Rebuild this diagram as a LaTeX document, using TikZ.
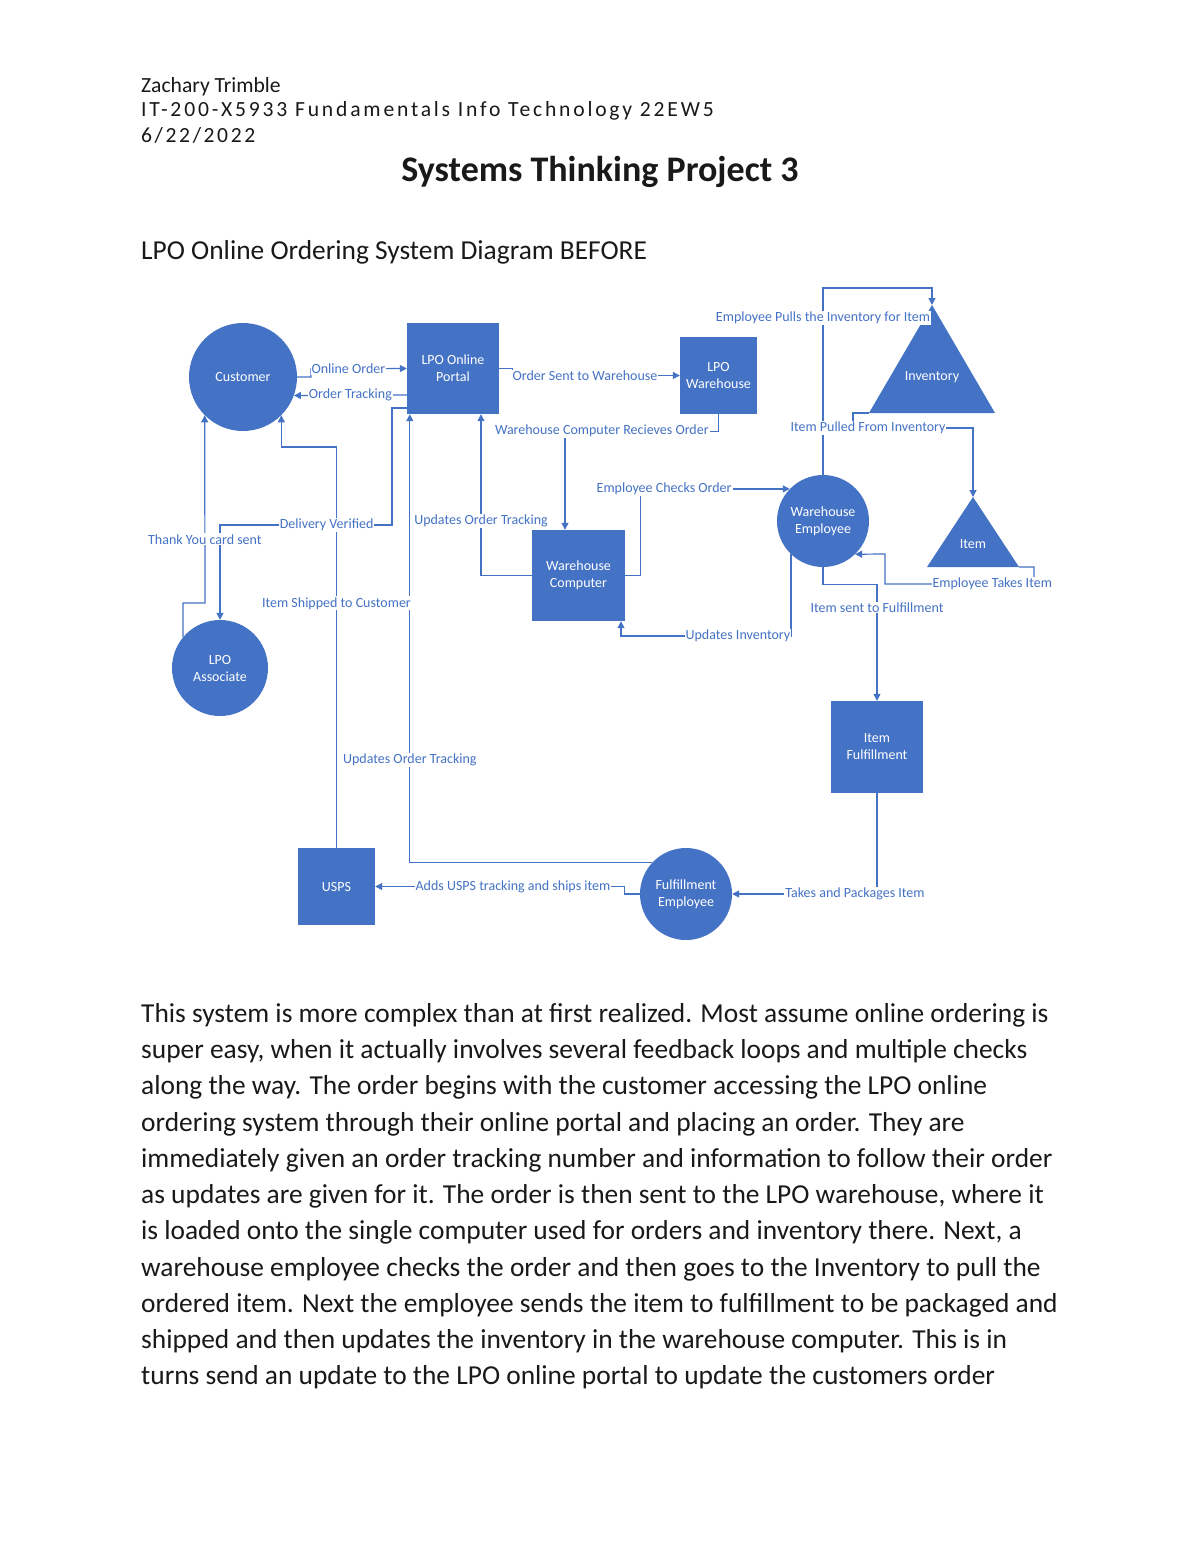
\documentclass[tikz,border=0pt]{standalone}
\usepackage{fontspec}
\setmainfont{Carlito}
\usetikzlibrary{arrows.meta,calc}
\definecolor{obl}{HTML}{4472C4}
\begin{document}
\begin{tikzpicture}[x=1pt,y=-1pt,
  shp/.style={fill=obl, text=white, font=\fontsize{14}{17}\selectfont, align=center, inner sep=0pt},
  circn/.style={shp, circle, minimum size=#1},
  rectn/.style 2 args={shp, rectangle, minimum width=#1, minimum height=#2},
  conn/.style={draw=obl, line width=1.2pt, -{Triangle[length=7pt,width=7pt]}},
  lab/.style={fill=white, text=obl, font=\fontsize{14}{16}\selectfont, inner sep=1pt},
  txt/.style={anchor=base west, inner sep=0pt, text=black!90}
]
\useasboundingbox (0,0) rectangle (1200,1553);
\fill[white] (0,0) rectangle (1200,1553);

% header
\node[txt, font=\fontsize{21.6}{26}\selectfont] (author) at (141,92) {Zachary Trimble};
\node[txt, font=\fontsize{21.6}{26}\selectfont\addfontfeatures{LetterSpace=13}] (course) at (141,116) {IT-200-X5933 Fundamentals Info Technology 22EW5};
\node[txt, font=\fontsize{21.6}{26}\selectfont\addfontfeatures{LetterSpace=12}] (date) at (141,142) {6/22/2022};
\node[anchor=base, inner sep=0pt, text=black!90, font=\bfseries\fontsize{36}{42}\selectfont] (title) at (600,181) {Systems Thinking Project 3};
\node[txt, font=\fontsize{27.4}{32}\selectfont] (sub) at (141,259) {LPO Online Ordering System Diagram BEFORE};

% shapes
\node[circn=108pt] (cust) at (243,377) {Customer};
\node[rectn={92pt}{91pt}] (portal) at (453,368.5) {LPO Online\\Portal};
\node[rectn={77pt}{77pt}] (whs) at (718.5,375.5) {LPO\\Warehouse};
\node[circn=92pt] (wemp) at (823,521) {Warehouse\\Employee};
\node[rectn={93pt}{91pt}] (wcomp) at (578.5,575.5) {Warehouse\\Computer};
\node[circn=96pt] (assoc) at (220,668) {LPO\\Associate};
\node[rectn={92pt}{92pt}] (ifull) at (877,747) {Item\\Fulfillment};
\node[rectn={77pt}{77pt}] (usps) at (336.5,886.5) {USPS};
\node[circn=92pt] (femp) at (686,894) {Fulfillment\\Employee};

\coordinate (invA) at (932,305);
\coordinate (invL) at (869,413);
\coordinate (invR) at (995,413);
\fill[obl] (invA) -- (invL) -- (invR) -- cycle;
\node[shp, fill=none] (inv) at (932,377) {Inventory};

\coordinate (itA) at (973,497);
\coordinate (itL) at (927,567);
\coordinate (itR) at (1019,567);
\fill[obl] (itA) -- (itL) -- (itR) -- cycle;
\node[shp, fill=none] (item) at (973,544) {Item};

% connectors
\draw[conn] (cust.east) -- (311,377) -- (311,369) -- coordinate[pos=0.39] (l1) (portal.west);
\draw[conn] (portal.west |- 0,395) -- coordinate[pos=0.5] (l2) (cust.-20);
\draw[conn] (portal.west |- 0,408) -- (392,408) -- (392,525) -- coordinate[pos=0.38] (l3) (220,525) -- (assoc.north);
\draw[conn] (assoc.140) -- (assoc.140 |- 0,603) -- (205,603) -- coordinate[pos=0.34] (l4) (cust.south west);
\draw[conn] (usps.north) -- coordinate[pos=0.61] (l5) (usps.north |- 0,447) -| (cust.south east);
\draw[conn] (femp.137) -| coordinate[pos=0.614] (l6) ([xshift=3pt]portal.south west);
\draw[conn] (wcomp.west) -| coordinate[pos=0.668] (l7) ([xshift=28pt]portal.south);
\draw[conn] (portal.east) -- ++(13,0) |- coordinate[pos=0.717] (l8) (whs.west);
\draw[conn] (whs.south) -- ++(0,17) -| coordinate[pos=0.38] (l9) ([xshift=-13.5pt]wcomp.north);
\draw[conn] (wcomp.east) -- ++(15,0) |- coordinate[pos=0.58] (l10) (wemp.136);
\draw[conn] (wemp.226) -- (wemp.226 |- 0,636) -| coordinate[pos=0.156] (l11) ([xshift=42.5pt]wcomp.south);
\draw[conn] (wemp.north) -- coordinate[pos=0.84] (l12) (wemp.north |- 0,288) -| (invA);
\draw[conn] (invL) -- ++(-16,0) -- ++(0,15) -| coordinate[pos=0.0625] (l13) (itA);
\draw[conn] (itR) -- ++(15,0) -- ++(0,17) -- coordinate[pos=0.28] (l14) (885,584) -- (885,554) -- (wemp.-46);
\draw[conn] (wemp.south) -- ++(0,17) -| coordinate[pos=0.6] (l15) (ifull.north);
\draw[conn] (ifull.south) |- coordinate[pos=0.576] (l16) (femp.east);
\draw[conn] (femp.west) -- ++(-15,0) |- coordinate[pos=0.724] (l17) (usps.east);

% connector labels (on top of all lines)
\node[lab] (t1) at (l1) {Online Order};
\node[lab] (t2) at (l2) {Order Tracking};
\node[lab] (t3) at (l3) {Delivery Verified};
\node[lab] (t4) at (l4) {Thank You card sent};
\node[lab] (t5) at (l5) {Item Shipped to Customer};
\node[lab] (t6) at (l6) {Updates Order Tracking};
\node[lab] (t7) at (l7) {Updates Order Tracking};
\node[lab] (t8) at (l8) {Order Sent to Warehouse};
\node[lab] (t9) at (l9) {Warehouse Computer Recieves Order};
\node[lab] (t10) at (l10) {Employee Checks Order};
\node[lab] (t11) at (l11) {Updates Inventory};
\node[lab] (t12) at (l12) {Employee Pulls the Inventory for Item};
\node[lab] (t13) at (l13) {Item Pulled From Inventory};
\node[lab] (t14) at (l14) {Employee Takes Item};
\node[lab] (t15) at (l15) {Item sent to Fulfillment};
\node[lab] (t16) at (l16) {Takes and Packages Item};
\node[lab] (t17) at (l17) {Adds USPS tracking and ships item};

% body text
\begin{scope}[every node/.style={txt, font=\fontsize{27.4}{32}\selectfont}]
\node (b1) at (141,1022) {This system is more complex than at first realized. Most assume online ordering is};
\node (b2) at (141,1058) {super easy, when it actually involves several feedback loops and multiple checks};
\node (b3) at (141,1094.5) {along the way. The order begins with the customer accessing the LPO online};
\node (b4) at (141,1131) {ordering system through their online portal and placing an order. They are};
\node (b5) at (141,1167) {immediately given an order tracking number and information to follow their order};
\node (b6) at (141,1203) {as updates are given for it. The order is then sent to the LPO warehouse, where it};
\node (b7) at (141,1239.5) {is loaded onto the single computer used for orders and inventory there. Next, a};
\node (b8) at (141,1276) {warehouse employee checks the order and then goes to the Inventory to pull the};
\node (b9) at (141,1312) {ordered item. Next the employee sends the item to fulfillment to be packaged and};
\node (b10) at (141,1348) {shipped and then updates the inventory in the warehouse computer. This is in};
\node (b11) at (141,1384) {turns send an update to the LPO online portal to update the customers order};
\end{scope}
\end{tikzpicture}
\end{document}
